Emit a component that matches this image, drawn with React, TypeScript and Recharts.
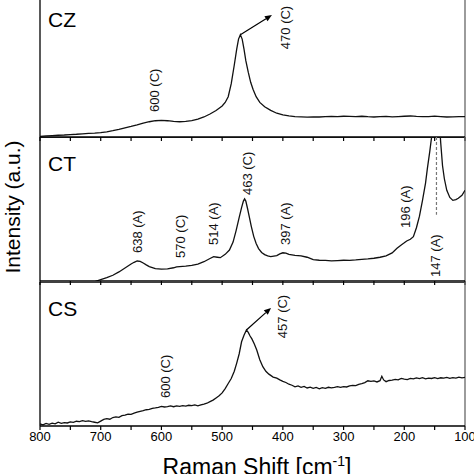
import { LineChart, Line, XAxis, YAxis, ReferenceLine, ReferenceDot } from "recharts";

const FONT = '"Liberation Sans", Arial, Helvetica, sans-serif';
const PANEL_H = 144;

// Raman shift ticks (cm-1); labels every 100, ticks every 50
const shiftTicks = [800, 750, 700, 650, 600, 550, 500, 450, 400, 350, 300, 250, 200, 150, 100];

// CZ spectrum
const czShift = [
  800, 790, 780, 770, 760, 750, 740, 730, 720, 710, 700, 690, 680, 670, 660, 650, 640, 630, 620, 610,
  600, 590, 580, 570, 560, 550, 540, 530, 520, 510, 500, 495, 490, 485, 480, 476, 473, 470, 467, 464,
  461, 457, 453, 449, 444, 438, 430, 420, 410, 400, 390, 380, 370, 360, 350, 340, 330, 320, 310, 300,
  290, 280, 270, 260, 250, 240, 230, 220, 210, 200, 190, 180, 170, 160, 150, 140, 130, 120, 110, 100,
];
const czIntensity = [
  0.5, 0.8, 1.0, 1.2, 1.4, 1.7, 1.9, 2.2, 2.5, 2.7, 3.0, 3.6, 4.4, 5.3, 6.3, 7.3, 8.4, 9.6, 10.6, 11.3,
  11.6, 11.3, 10.8, 10.6, 10.8, 11.3, 12.4, 13.9, 16.0, 18.4, 21.5, 24, 28, 37, 50, 61, 68, 71, 68, 61,
  53, 45, 38, 33, 28, 24, 21, 18.5, 16.5, 15.3, 14.6, 14.2, 14.0, 13.8, 14.0, 13.9, 14.1, 14.3, 14.2, 14.4,
  14.3, 14.2, 14.4, 14.1, 13.9, 14.1, 14.3, 14.0, 14.2, 14.4, 14.6, 14.3, 14.1, 14.2, 14.5, 14.2, 13.9, 14.0, 14.1, 14.2,
];

// CT spectrum
const ctShift = [
  800, 760, 720, 710, 700, 690, 680, 670, 660, 650, 645, 640, 635, 630, 625, 620, 610, 600, 590, 580,
  575, 570, 560, 550, 540, 530, 520, 514, 508, 503, 495, 488, 482, 477, 472, 468, 465, 463, 461, 458,
  455, 452, 448, 444, 440, 435, 430, 425, 420, 410, 405, 400, 395, 390, 380, 370, 360, 350, 340, 330,
  320, 310, 300, 290, 280, 270, 260, 250, 240, 230, 220, 212, 205, 200, 196, 190, 185, 180, 175, 170,
  165, 162, 158, 155, 152, 148, 146, 143, 140, 137, 134, 130, 125, 120, 115, 111, 105, 100,
];
const ctIntensity = [
  -10, -6, -2, -0.5, 1, 2.3, 4, 6.3, 9, 11.8, 13, 13.9, 13.6, 12.5, 11.2, 10, 8.6, 8.3, 8.4, 9.2,
  9.8, 10, 10.3, 10.8, 11.8, 13.4, 15.6, 16.9, 16.5, 16.2, 18.5, 21.5, 27, 35, 44, 51, 55.5, 57, 55.5, 50,
  44, 38, 31, 26, 22.5, 19.8, 18.3, 17.4, 17, 17.6, 18.8, 19.6, 19.4, 18.5, 17.8, 17.4, 16.5, 14.8, 14.4, 14.3,
  14.0, 14.2, 14.4, 14.3, 14.6, 15.0, 15.3, 15.8, 16.5, 17.4, 19.5, 22.7, 25, 26.5, 27.8, 29, 30.8, 37, 45, 56,
  68, 78, 90, 100, 118, 130, 130, 115, 96, 80, 71, 63, 58, 56, 56.5, 57.5, 59.5, 63,
];

// CS spectrum
const csShift = [
  800, 795, 790, 785, 780, 775, 770, 765, 760, 755, 750, 745, 740, 735, 730, 725, 720, 715, 710, 705,
  700, 695, 690, 685, 680, 675, 670, 665, 660, 655, 650, 645, 640, 635, 630, 625, 620, 615, 610, 605,
  600, 595, 590, 585, 580, 575, 570, 565, 560, 555, 550, 545, 540, 535, 530, 525, 520, 515, 510, 505,
  500, 495, 490, 485, 480, 476, 472, 468, 464, 460, 457, 454, 451, 447, 443, 438, 433, 428, 423, 416,
  410, 405, 400, 395, 390, 385, 380, 375, 370, 365, 360, 355, 350, 345, 340, 335, 330, 325, 320, 315,
  310, 305, 300, 295, 290, 285, 280, 275, 270, 265, 260, 255, 250, 245, 240, 237, 234, 230, 225, 220,
  215, 210, 205, 200, 195, 190, 185, 180, 175, 170, 165, 160, 155, 150, 145, 140, 135, 130, 125, 120,
  115, 110, 105, 100,
];
const csIntensity = [
  1.4, 0.8, 1.8, 1.2, 2.0, 1.5, 2.6, 1.9, 2.4, 2.1, 2.9, 2.5, 3.3, 3.0, 3.7, 3.2, 3.5, 3.0, 2.6, 2.2,
  3.4, 4.6, 5.1, 4.7, 5.9, 6.3, 6.0, 7.2, 7.6, 8.3, 8.1, 9.0, 9.6, 10.2, 10.7, 11.3, 11.5, 12.3, 12.6, 13.0,
  13.6, 13.2, 13.5, 13.9, 13.4, 14.0, 13.7, 14.1, 13.8, 14.4, 14.1, 14.6, 14.0, 14.7, 15.2, 15.8, 16.9, 18.0, 19.5, 21.0,
  23.0, 26, 29.5, 33, 38, 43.7, 50, 58.5, 63, 66.7, 65, 62.5, 60.5, 57, 52.8, 46, 41.2, 38, 36, 34,
  33.2, 32, 31, 30.2, 29, 28.3, 27.2, 27.8, 26.9, 27.5, 26.4, 27.0, 26.1, 26.8, 25.8, 26.6, 26.2, 26.9, 26.5, 26.8,
  27.3, 26.9, 27.4, 27.1, 27.8, 28.2, 28.0, 28.9, 29.4, 30.1, 31.4, 31.0, 31.3, 30.6, 31.5, 34.5, 32.0, 30.8, 31.6, 31.9,
  32.4, 32.0, 33.1, 32.6, 32.2, 33.0, 32.7, 33.4, 32.9, 33.6, 32.8, 33.3, 33.0, 33.6, 32.9, 33.5, 33.2, 33.8, 33.1, 33.6,
  33.3, 33.9, 33.4, 33.8,
];

// peak assignments: text, shift of the label, intensity where the label starts
const czPeakText = ["600 (C)", "470 (C)"];
const czPeakShift = [611, 396];
const czPeakLevel = [17.4, 61];

const ctPeakText = ["638 (A)", "570 (C)", "514 (A)", "463 (C)", "397 (A)", "196 (A)", "147 (A)"];
const ctPeakShift = [639, 569, 515, 459, 396, 199, 149];
const ctPeakLevel = [19.4, 16, 25, 59.7, 25, 36.8, 2.8];

const csPeakText = ["600 (C)", "457 (C)"];
const csPeakShift = [594, 401];
const csPeakLevel = [19.4, 61];

// arrows from peak maximum to its label: [shift, intensity] pairs
const czArrow = [[470, 71], [418, 84.7]];
const csArrow = [[460, 66.7], [419.5, 82]];

// outward tick below the panel, value label only on the bottom panel
function FrameTick(props: any) {
  const { x, y, payload, labelled } = props;
  const v = payload.value;
  const major = v % 100 === 0;
  return (
    <g>
      <line x1={x} x2={x} y1={y} y2={y + 4} stroke="#000" strokeWidth={1.2} />
      {labelled && major && (
        <text x={x} y={y + 15} textAnchor="middle" fontSize={13} fontFamily={FONT} fill="#000">
          {v}
        </text>
      )}
    </g>
  );
}

function ArrowShape(props: any) {
  const { x1, y1, x2, y2 } = props;
  const a = Math.atan2(y2 - y1, x2 - x1);
  const len = 7;
  const half = 3;
  const bx = x2 - len * Math.cos(a);
  const by = y2 - len * Math.sin(a);
  const px = -Math.sin(a) * half;
  const py = Math.cos(a) * half;
  return (
    <g>
      <line x1={x1} y1={y1} x2={bx} y2={by} stroke="#000" strokeWidth={1.2} />
      <polygon points={`${x2},${y2} ${bx + px},${by + py} ${bx - px},${by - py}`} fill="#000" />
    </g>
  );
}

function peakLabel(text: string) {
  return (p: any) => {
    const { x, y } = p.viewBox;
    return (
      <text
        x={x}
        y={y}
        dy="0.36em"
        transform={`rotate(-90 ${x} ${y})`}
        fontSize={13}
        fontFamily={FONT}
        fill="#111"
        textAnchor="start"
      >
        {text}
      </text>
    );
  };
}

function nameLabel(name: string) {
  return (p: any) => {
    const { x, y } = p.viewBox;
    return (
      <text x={x + 8} y={y + 34} fontSize={21} fontFamily={FONT} fill="#000">
        {name}
      </text>
    );
  };
}

interface PanelProps {
  name: string;
  shift: number[];
  intensity: number[];
  peakText: string[];
  peakShift: number[];
  peakLevel: number[];
  arrow?: number[][];
  top: number;
  withAxis?: boolean;
  marker147?: boolean;
}

function Panel({ name, shift, intensity, peakText, peakShift, peakLevel, arrow, top, withAxis, marker147 }: PanelProps) {
  const data = shift.map((s, i) => ({ shift: s, intensity: intensity[i] }));
  const axisH = withAxis ? 50 : 6;
  return (
    <div style={{ position: "absolute", left: 0, top }}>
      <LineChart width={474} height={PANEL_H + axisH} data={data} margin={{ top: 0, right: 9, bottom: 0, left: 40 }}>
        <XAxis
          type="number"
          dataKey="shift"
          domain={[100, 800]}
          reversed
          allowDataOverflow
          ticks={shiftTicks}
          interval={0}
          tickSize={0}
          tickMargin={0}
          tickLine={false}
          height={axisH}
          axisLine={{ stroke: "#000", strokeWidth: 1.3 }}
          tick={(p: any) => <FrameTick {...p} labelled={withAxis} />}
        />
        <YAxis hide domain={[0, 100]} allowDataOverflow />
        <ReferenceLine y={100} stroke="#000" strokeWidth={1.3} label={{ content: nameLabel(name) }} />
        <ReferenceLine x={800} stroke="#000" strokeWidth={1.3} />
        <ReferenceLine x={100} stroke="#666" strokeWidth={1.3} />
        {marker147 && (
          <ReferenceLine
            segment={[{ x: 147, y: 100 }, { x: 147, y: 46 }]}
            stroke="#777"
            strokeWidth={1.2}
            strokeDasharray="3 2"
          />
        )}
        <Line
          type="linear"
          dataKey="intensity"
          dot={false}
          stroke="#111"
          strokeWidth={1.3}
          isAnimationActive={false}
        />
        {arrow && (
          <ReferenceLine
            segment={[{ x: arrow[0][0], y: arrow[0][1] }, { x: arrow[1][0], y: arrow[1][1] }]}
            shape={ArrowShape}
          />
        )}
        {peakText.map((t, i) => (
          <ReferenceDot
            key={t + i}
            x={peakShift[i]}
            y={peakLevel[i]}
            r={0}
            fill="none"
            stroke="none"
            label={{ content: peakLabel(t) }}
          />
        ))}
      </LineChart>
    </div>
  );
}

export default function App() {
  return (
    <div
      style={{
        position: "absolute",
        left: 0,
        top: 0,
        width: 474,
        height: 474,
        overflow: "hidden",
        background: "#fff",
      }}
    >
      <Panel
        name="CZ"
        shift={czShift}
        intensity={czIntensity}
        peakText={czPeakText}
        peakShift={czPeakShift}
        peakLevel={czPeakLevel}
        arrow={czArrow}
        top={-7}
      />
      <Panel
        name="CT"
        shift={ctShift}
        intensity={ctIntensity}
        peakText={ctPeakText}
        peakShift={ctPeakShift}
        peakLevel={ctPeakLevel}
        top={137}
        marker147
      />
      <Panel
        name="CS"
        shift={csShift}
        intensity={csIntensity}
        peakText={csPeakText}
        peakShift={csPeakShift}
        peakLevel={csPeakLevel}
        arrow={csArrow}
        top={282}
        withAxis
      />
      <svg width={474} height={474} style={{ position: "absolute", left: 0, top: 0, pointerEvents: "none" }}>
        <text
          x={20}
          y={207}
          transform="rotate(-90 20 207)"
          textAnchor="middle"
          fontSize={21}
          fontFamily={FONT}
          fill="#000"
        >
          Intensity (a.u.)
        </text>
        <text x={257} y={475} textAnchor="middle" fontSize={23} fontFamily={FONT} fill="#000">
          Raman Shift [cm
          <tspan dy={-9} fontSize={14}>
            -1
          </tspan>
          <tspan dy={9}>]</tspan>
        </text>
      </svg>
    </div>
  );
}
